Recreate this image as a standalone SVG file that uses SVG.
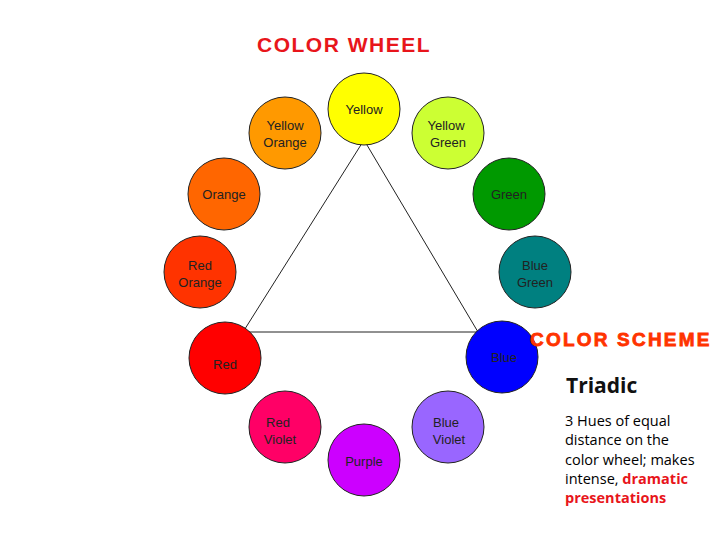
<svg xmlns="http://www.w3.org/2000/svg" width="728" height="546" viewBox="0 0 728 546">
<style>
circle{stroke:#222;stroke-width:1}
.l{font-family:"Liberation Sans",Arial,sans-serif;font-size:13px;fill:#222;text-anchor:middle}
.c{font-family:"Open Sans","DejaVu Sans",sans-serif;font-size:14.5px}
</style>
<rect width="728" height="546" fill="#fff"/>
<text x="257" y="52" font-family="Liberation Sans,Arial,sans-serif" font-weight="bold" font-size="21" fill="#e8151b" letter-spacing="1.5">COLOR WHEEL</text>
<g id="connectors"><polygon points="364,140 243,332 478,332" fill="none" stroke="#222" stroke-width="1"/></g>
<g id="yellow"><circle cx="364" cy="109" r="36" fill="#ffff00"/><text class="l" x="364" y="114">Yellow</text></g>
<g id="yellow-orange"><circle cx="285" cy="133" r="36" fill="#ff9900"/><text class="l" x="285" y="130">Yellow</text><text class="l" x="285" y="147">Orange</text></g>
<g id="yellow-green"><circle cx="448" cy="133" r="36" fill="#ccff33"/><text class="l" x="446" y="130">Yellow</text><text class="l" x="448" y="147">Green</text></g>
<g id="orange"><circle cx="224" cy="194" r="36" fill="#ff6600"/><text class="l" x="224" y="199">Orange</text></g>
<g id="green"><circle cx="509" cy="194" r="36" fill="#009900"/><text class="l" x="509" y="199">Green</text></g>
<g id="red-orange"><circle cx="200" cy="272" r="36" fill="#ff3300"/><text class="l" x="200" y="270">Red</text><text class="l" x="200" y="287">Orange</text></g>
<g id="blue-green"><circle cx="535" cy="272" r="36" fill="#008080"/><text class="l" x="535" y="270">Blue</text><text class="l" x="535" y="287">Green</text></g>
<g id="red"><circle cx="225" cy="358" r="36" fill="#ff0000"/><text class="l" x="225" y="369">Red</text></g>
<g id="blue"><circle cx="502" cy="357" r="36" fill="#0000ff"/><text class="l" x="504" y="362">Blue</text></g>
<g id="red-violet"><circle cx="285" cy="427" r="36" fill="#ff0066"/><text class="l" x="278" y="427">Red</text><text class="l" x="280" y="444">Violet</text></g>
<g id="blue-violet"><circle cx="448" cy="427" r="36" fill="#9966ff"/><text class="l" x="446" y="427">Blue</text><text class="l" x="449" y="444">Violet</text></g>
<g id="purple"><circle cx="364" cy="460" r="36" fill="#cc00ff"/><text class="l" x="364" y="466">Purple</text></g>
<text x="530" y="346" font-family="Liberation Sans,Arial,sans-serif" font-weight="900" font-size="19" fill="#ff3300" stroke="#ff3300" stroke-width="0.8" letter-spacing="2.2">COLOR SCHEME</text>
<text x="566" y="393" font-family="Open Sans,DejaVu Sans,sans-serif" font-weight="bold" font-size="21" fill="#111">Triadic</text>
<text class="c" x="565" y="426">3 Hues of equal</text>
<text class="c" x="565" y="445">distance on the</text>
<text class="c" x="565" y="465">color wheel; makes</text>
<text class="c" x="565" y="484">intense, <tspan fill="#e8151b" font-weight="bold">dramatic</tspan></text>
<text class="c" x="565" y="503" fill="#e8151b" font-weight="bold">presentations</text>
</svg>
